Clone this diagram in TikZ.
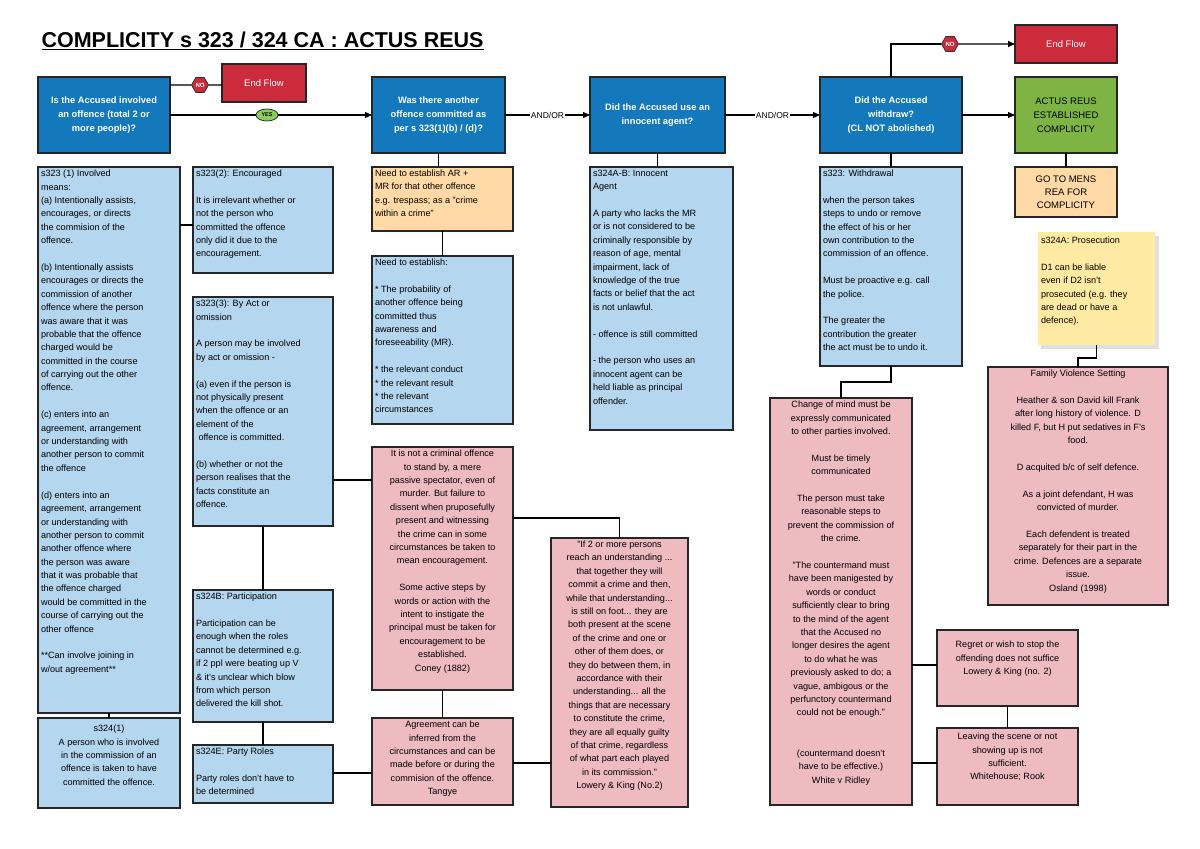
\documentclass[tikz,border=0pt]{standalone}
\usepackage{fontspec}
\setmainfont{Liberation Sans}
\usetikzlibrary{shapes.geometric,arrows.meta}
\definecolor{qblue}{HTML}{1479BC}
\definecolor{lblue}{HTML}{B4D6EF}
\definecolor{pinkb}{HTML}{EEBBC1}
\definecolor{redb}{HTML}{CC2B3B}
\definecolor{orangeb}{HTML}{FFD9A6}
\definecolor{yellowb}{HTML}{FFEAA3}
\definecolor{greenb}{HTML}{7DB443}
\definecolor{yesg}{HTML}{8CCB5E}
\newcommand\tb[3]{\parbox[c][#2pt][t]{#1pt}{#3}}
\tikzset{
  bx/.style={draw=black!85,line width=1.1pt,anchor=north west,inner sep=3pt,outer sep=0pt,font=\fontsize{9.1}{13.4}\selectfont},
  qbox/.style={draw=black!85,line width=1.4pt,anchor=north west,inner sep=2pt,outer sep=0pt,fill=qblue,text=white,align=center,font=\bfseries\fontsize{9.3}{14}\selectfont},
  ln/.style={line width=1.1pt},
  arr/.style={line width=1.1pt,-{Triangle[length=7pt,width=6pt]}},
  hexno/.style={regular polygon,regular polygon sides=6,fill=redb,draw=black!80,line width=0.8pt,text=white,inner sep=0.5pt,minimum size=17pt,font=\bfseries\fontsize{6}{6}\selectfont,shape border rotate=0},
  lbl/.style={fill=white,inner sep=1pt,font=\fontsize{8.5}{9}\selectfont}
}
\begin{document}
\begin{tikzpicture}[x=1pt,y=-1pt]
\useasboundingbox (0,0) rectangle (1200,849);
\node[anchor=west,font=\bfseries\fontsize{21.5}{23}\selectfont] (title) at (38,41) {\underline{COMPLICITY s 323 / 324 CA : ACTUS REUS}};
% top row
\node[qbox,minimum width=132,minimum height=76] (q1) at (38,77) {Is the Accused involved\\an offence (total 2 or\\more people)?};
\node[qbox,minimum width=84,minimum height=38,fill=redb,font=\fontsize{9.5}{12}\selectfont] (end1) at (222,64) {End Flow};
\node[qbox,minimum width=133,minimum height=76] (q2) at (372,77) {Was there another\\offence committed as\\per s 323(1)(b) / (d)?};
\node[qbox,minimum width=135,minimum height=76] (q3) at (590,77) {Did the Accused use an\\innocent agent?};
\node[qbox,minimum width=142,minimum height=76] (q4) at (820,77) {Did the Accused\\withdraw?\\(CL NOT abolished)};
\node[qbox,minimum width=102,minimum height=38,fill=redb,font=\fontsize{9.5}{12}\selectfont] (end2) at (1015,25) {End Flow};
\node[qbox,minimum width=102,minimum height=76,fill=greenb,text=black,font=\fontsize{9.5}{14}\selectfont] (ar) at (1015,77) {ACTUS REUS\\ESTABLISHED\\COMPLICITY};
\node[qbox,minimum width=102,minimum height=50,fill=orangeb,text=black,font=\fontsize{9.5}{13}\selectfont] (mr) at (1015,167) {GO TO MENS\\REA FOR\\COMPLICITY};
% connectors top
\node[hexno] (no1) at (200,85) {NO};
\draw[ln] (q1.east|-no1) -- (no1) -- (no1-|end1.west);
\node[ellipse,fill=yesg,draw=black!80,line width=0.8pt,inner sep=1pt,minimum width=22pt,minimum height=12pt,font=\bfseries\fontsize{5.5}{6}\selectfont] (yes) at (267,115) {YES};
\draw[ln] (q1.east|-yes) -- (yes);
\draw[arr] (yes) -- (q2.west|-yes);
\draw[arr] (q2.east) -- node[lbl] {AND/OR} (q3.west);
\draw[arr] (q3.east) -- node[lbl] {AND/OR} (q4.west);
\node[hexno] (no2) at (950,44) {NO};
\draw[ln] (q4.north) |- (no2);
\draw[arr] (no2) -- (no2-|end2.west);
\draw[arr] (q4.east) -- (ar.west|-q4.east);
\draw[ln] (ar) -- (mr);
% column 1
\node[bx,fill=lblue] (s1) at (38,167) {\tb{136}{540}{\raggedright s323 (1) Involved\\means:\\(a) Intentionally assists,\\encourages, or directs\\the commision of the\\offence.\\[13.4pt]
(b) Intentionally assists\\encourages or directs the\\commission of another\\offence where the person\\was aware that it was\\probable that the offence\\charged would be\\committed in the course\\of carrying out the other\\offence.\\[13.4pt]
(c) enters into an\\agreement, arrangement\\or understanding with\\another person to commit\\the offence\\[13.4pt]
(d) enters into an\\agreement, arrangement\\or understanding with\\another person to commit\\another offence where\\the person was aware\\that it  was probable that\\the offence charged\\would be committed in the\\course of carrying out the\\other offence\\[13.4pt]
**Can involve joining in\\w/out agreement**}};
\node[bx,fill=lblue] (s324) at (38,718) {\tb{136}{84}{\centering\vspace*{4pt}s324(1)\\A person who is involved\\in the commission of an\\offence is taken to have\\committed the offence.}};
\draw[ln] (s1.south) -- (s324.north);
% column 2
\node[bx,fill=lblue] (s2) at (193,167) {\tb{134}{100}{\raggedright s323(2): Encouraged\\[13.4pt]It is irrelevant whether or\\not the person who\\committed the offence\\only did it due to the\\encouragement.}};
\draw[ln] (180,225) -- (s2.west|-0,225);
\node[bx,fill=lblue] (s3) at (193,297) {\tb{134}{223}{\raggedright s323(3): By Act or\\omission\\[13.4pt]A person may be involved\\by act or omission -\\[13.4pt](a) even if the person is\\not physically present\\when the offence or an\\element of the\\\ offence is committed.\\[13.4pt](b) whether or not the\\person realises that the\\facts constitute an\\offence.}};
\node[bx,fill=lblue] (s4b) at (193,590) {\tb{134}{126}{\raggedright s324B: Participation\\[13.4pt]Participation can be\\enough when the roles\\cannot be determined e.g.\\if 2 ppl were beating up V\\\& it's unclear which blow\\from which person\\delivered the kill shot.}};
\node[bx,fill=lblue] (s4e) at (193,745) {\tb{134}{52}{\raggedright s324E: Party Roles\\[13.4pt]Party roles don't have to\\be determined}};
\draw[ln] (s3.south) -- (s4b.north);
\draw[ln] (s4b.south) -- (s4e.north);
% column 3
\node[bx,fill=orangeb] (n1) at (372,167) {\tb{135}{58}{\raggedright Need to establish AR +\\MR for that other offence\\e.g. trespass; as a "crime\\within a crime"}};
\node[bx,fill=lblue] (n2) at (372,256) {\tb{135}{162}{\raggedright Need to establish:\\[13.4pt]{}* The probability of\\another offence being\\committed thus\\awareness and\\foreseeability (MR).\\[13.4pt]{}* the relevant conduct\\{}* the relevant result\\{}* the relevant\\circumstances}};
\node[bx,fill=pinkb] (p1) at (372,447) {\tb{135}{237}{\centering It is not a criminal offence\\to stand by, a mere\\passive spectator, even of\\murder. But failure to\\dissent when pruposefully\\present and witnessing\\the crime can in some\\circumstances be taken to\\mean encouragement.\\[13.4pt]Some active steps by\\words or action with the\\intent to instigate the\\principal must be taken for\\encouragement to be\\established.\\Coney (1882)}};
\node[bx,fill=pinkb] (p2) at (372,718) {\tb{135}{81}{\centering Agreement can be\\inferred from the\\circumstances and can be\\made before or during the\\commision of the offence.\\Tangye}};
\draw[ln] (q2.south) -- (q2.south|-n1.north);
\draw[ln] (n1.south) -- (n2.north);
\draw[ln] (p1.south) -- (p2.north);
\draw[ln] (s3.east|-0,480) -- (p1.west|-0,480);
\draw[ln] (s4e.east|-0,773) -- (p2.west|-0,773);
% lowery
\node[bx,fill=pinkb] (p3) at (551,538) {\tb{131}{263}{\centering "If 2 or more persons\\reach an understanding ...\\that together they will\\commit a crime and then,\\while that understanding...\\is still on foot... they are\\both present at the scene\\of the crime and one or\\other of them does, or\\they do between them, in\\accordance with their\\understanding... all the\\things that are necessary\\to constitute the crime,\\they are all equally guilty\\of that crime, regardless\\of what part each played\\in its commission."\\Lowery \& King (No.2)}};
\draw[ln] (p1.east|-0,518) -| (p3.north);
\draw[ln] (p2.east|-0,763) -- (p3.west|-0,763);
% innocent agent
\node[bx,fill=lblue] (ia) at (590,167) {\tb{137}{257}{\raggedright s324A-B: Innocent\\Agent\\[13.4pt]A party who lacks the MR\\or is not considered to be\\criminally responsible by\\reason of age, mental\\impairment, lack of\\knowledge of the true\\facts or belief that the act\\is not unlawful.\\[13.4pt]- offence is still committed\\[13.4pt]- the person who uses an\\innocent agent can be\\held liable as principal\\offender.}};
\draw[ln] (q3.south) -- (q3.south|-ia.north);
% withdrawal
\node[bx,fill=lblue] (wd) at (820,167) {\tb{136}{193}{\raggedright s323: Withdrawal\\[13.4pt]when the person takes\\steps to undo or remove\\the effect of his or her\\own contribution to the\\commission of an offence.\\[13.4pt]Must be proactive e.g. call\\the police.\\[13.4pt]The greater the\\contribution the greater\\the act must be to undo it.}};
\draw[ln] (q4.south) -- (q4.south|-wd.north);
\node[bx,fill=pinkb] (cm) at (770,398) {\tb{136}{401}{\centering Change of mind must be\\expressly communicated\\to other parties involved.\\[13.4pt]Must be timely\\communicated\\[13.4pt]The person must take\\reasonable steps to\\prevent the commission of\\the crime.\\[13.4pt]"The countermand must\\have been manigested by\\words or conduct\\sufficiently clear to bring\\to the mind of the agent\\that the Accused no\\longer desires the agent\\to do what he was\\previously asked to do; a\\vague, ambigous or the\\perfunctory countermand\\could not be enough."\\[27pt](countermand doesn't\\have to be effective.)\\White v Ridley}};
\draw[ln] (wd.south) -- ++(0,16) -| (cm.north);
\node[bx,fill=pinkb] (rg) at (937,630) {\tb{135}{70}{\centering\vspace*{8pt}Regret or wish to stop the\\offending does not suffice\\Lowery \& King (no. 2)}};
\node[bx,fill=pinkb] (lv) at (937,728) {\tb{135}{71}{\centering\vspace*{2pt}Leaving the scene or not\\showing up is not\\sufficient.\\Whitehouse; Rook}};
\draw[ln] (cm.east|-0,665) -- (rg.west|-0,665);
\draw[ln] (cm.east|-0,763) -- (lv.west|-0,763);
\draw[ln] (rg.south) -- (lv.north);
% prosecution
\fill[black!12] (1041,236) rectangle (1159,349);
\node[bx,draw=none,fill=yellowb] (pr) at (1038,232) {\tb{111}{107}{\raggedright\vspace*{2pt}s324A: Prosecution\\[13.4pt]D1 can be liable\\even if D2 isn't\\prosecuted (e.g. they\\are dead or have a\\defence).}};
\node[bx,fill=pinkb] (fv) at (988,367) {\tb{174}{232}{\centering Family Violence Setting\\[13.4pt]Heather \& son David kill Frank\\after long history of violence. D\\killed F, but H put sedatives in F's\\food.\\[13.4pt]D acquited b/c of self defence.\\[13.4pt]As a joint defendant, H was\\convicted of murder.\\[13.4pt]Each defendent is treated\\separately for their part in the\\crime. Defences are a separate\\issue.\\Osland (1998)}};
\draw[ln] (pr.south) -- ++(0,13) -| (fv.north);
\end{tikzpicture}
\end{document}
